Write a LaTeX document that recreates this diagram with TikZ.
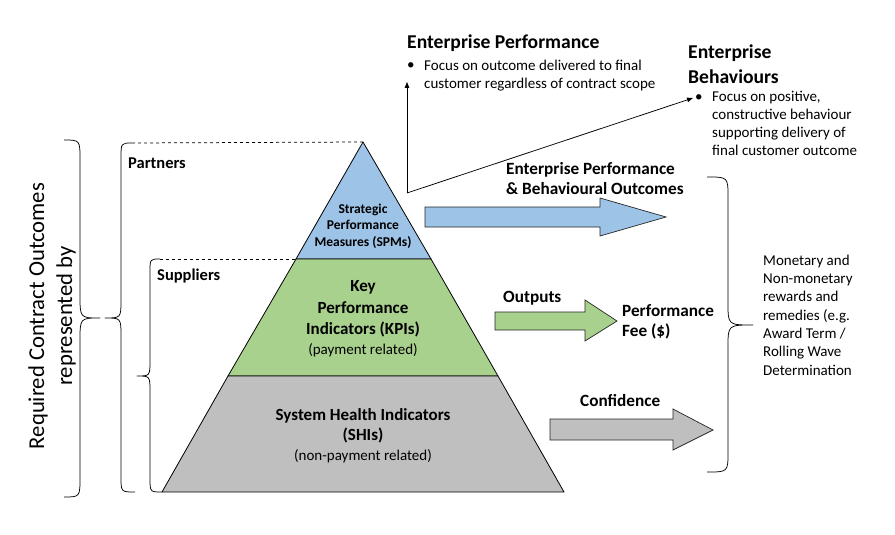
\documentclass[tikz,border=0pt]{standalone}
\usepackage{fontspec}
\setmainfont{Carlito}
\usetikzlibrary{arrows.meta}
\definecolor{spmblue}{HTML}{9DC3E6}
\definecolor{kpigreen}{HTML}{A9D18E}
\definecolor{shigrey}{HTML}{BFBFBF}
\tikzset{level/.style={draw=black,line width=0.8pt,line join=round},
 blockarrow/.style={draw=black!85,line width=0.7pt},
 curly/.style={line width=0.75pt,line join=round},
 tag/.style={font=\bfseries\fontsize{17.2}{20}\selectfont,inner sep=0pt,align=left,anchor=base west},
 note/.style={font=\fontsize{15}{17.8}\selectfont,inner sep=0pt,align=left,anchor=base west},
 heading/.style={font=\bfseries\fontsize{19.6}{25}\selectfont,inner sep=0pt,align=left,anchor=base west},
 pointer/.style={-{Triangle[length=6pt,width=4.5pt]},line width=0.75pt}}

\begin{document}
\begin{tikzpicture}[x=1pt,y=-1pt]
\useasboundingbox (0,0) rectangle (895,535);
% pyramid
\coordinate (apex) at (363,142);
\coordinate (spmL) at (296,259);
\coordinate (spmR) at (431,259);
\coordinate (kpiL) at (228,376);
\coordinate (kpiR) at (498,376);
\coordinate (baseL) at (162,492);
\coordinate (baseR) at (564,492);
\draw[level,fill=spmblue] (apex)--(spmR)--(spmL)--cycle;
\draw[level,fill=kpigreen] (spmL)--(spmR)--(kpiR)--(kpiL)--cycle;
\draw[level,fill=shigrey] (kpiL)--(kpiR)--(baseR)--(baseL)--cycle;
\node[font=\bfseries\fontsize{13.5}{16.5}\selectfont,align=center,inner sep=0pt] (spm) at (363,226) {Strategic\\Performance\\Measures (SPMs)};
\node[font=\bfseries\fontsize{17}{21.5}\selectfont,align=center,inner sep=0pt] (kpi) at (363,309) {Key\\Performance\\Indicators (KPIs)};
\node[font=\fontsize{15}{18}\selectfont,inner sep=0pt] (kpinote) at (363,350) {(payment related)};
\node[font=\bfseries\fontsize{17}{20}\selectfont,align=center,inner sep=0pt] (shi) at (363,426) {System Health Indicators\\(SHIs)};
\node[font=\fontsize{15}{18}\selectfont,inner sep=0pt] (shinote) at (363,456) {(non-payment related)};

% braces on the left
\draw[curly] (64,140) .. controls (80,140) .. (80,160) -- (80,295) .. controls (80,318) .. (100,318)
 .. controls (80,318) .. (80,341) -- (80,477) .. controls (80,497) .. (64,497);
\draw[curly] (132,143) .. controls (121,143) .. (121,158) -- (121,300) .. controls (121,318) .. (105,318)
 .. controls (121,318) .. (121,336) -- (121,477) .. controls (121,492) .. (135,492);
\draw[curly,dashed] (132,143) -- (apex);
\draw[curly] (160,259) .. controls (150,259) .. (150,272) -- (150,360) .. controls (150,376) .. (137,376)
 .. controls (150,376) .. (150,392) -- (150,478) .. controls (150,492) .. (162,492);
\draw[curly,dashed] (160,259) -- (spmL);
\node[rotate=90,font=\fontsize{22.7}{28}\selectfont,align=center,inner sep=0pt] (rco) at (52,316) {Required Contract Outcomes\\represented by};
\node[tag,font=\bfseries\fontsize{16.5}{18}\selectfont] (partners) at (128,168) {Partners};
\node[tag,font=\bfseries\fontsize{16.5}{18}\selectfont] (suppliers) at (157,280) {Suppliers};

% block arrows
\draw[blockarrow,fill=spmblue] (425,207)--(600,207)--(600,198)--(666,217)--(600,236)--(600,227)--(425,227)--cycle;
\draw[blockarrow,fill=kpigreen] (495,312)--(585,312)--(585,300)--(617,321)--(585,341)--(585,330)--(495,330)--cycle;
\draw[blockarrow,fill=shigrey] (550,419)--(673,419)--(673,409)--(713,430)--(673,450)--(673,440)--(550,440)--cycle;
\node[tag] (epbo) at (506,194) {Enterprise Performance\\\& Behavioural Outcomes};
\node[tag] (outputs) at (503,302) {Outputs};
\node[tag] (fee) at (622,336) {Performance\\Fee (\$)};
\node[tag] (confidence) at (580,406) {Confidence};

% right brace
\draw[curly] (707,177) .. controls (728,177) .. (728,197) -- (728,303) .. controls (728,325) .. (753,325)
 .. controls (728,325) .. (728,347) -- (728,452) .. controls (728,472) .. (707,472);
\node[note,font=\fontsize{15}{18.3}\selectfont] (rewards) at (763,375) {Monetary and\\Non-monetary\\rewards and\\remedies (e.g.\\Award Term /\\Rolling Wave\\Determination};

% enterprise performance / behaviours
\node[heading] (ep) at (407,49) {Enterprise Performance};
\node[note] (epdot) at (407,70) {•};
\node[note] (eptext) at (424,88.5) {Focus on outcome delivered to final\\customer regardless of contract scope};
\node[heading] (eb) at (688,84) {Enterprise\\Behaviours};
\node[note] (ebdot) at (695,102) {•};
\node[note] (ebtext) at (712,155) {Focus on positive,\\constructive behaviour\\supporting delivery of\\final customer outcome};
\coordinate (kink) at (407,193);
\coordinate (epend) at (407,82);
\coordinate (ebend) at (693,98);
\draw[pointer] (kink) -- (epend);
\draw[pointer] (kink) -- (ebend);
\end{tikzpicture}
\end{document}
